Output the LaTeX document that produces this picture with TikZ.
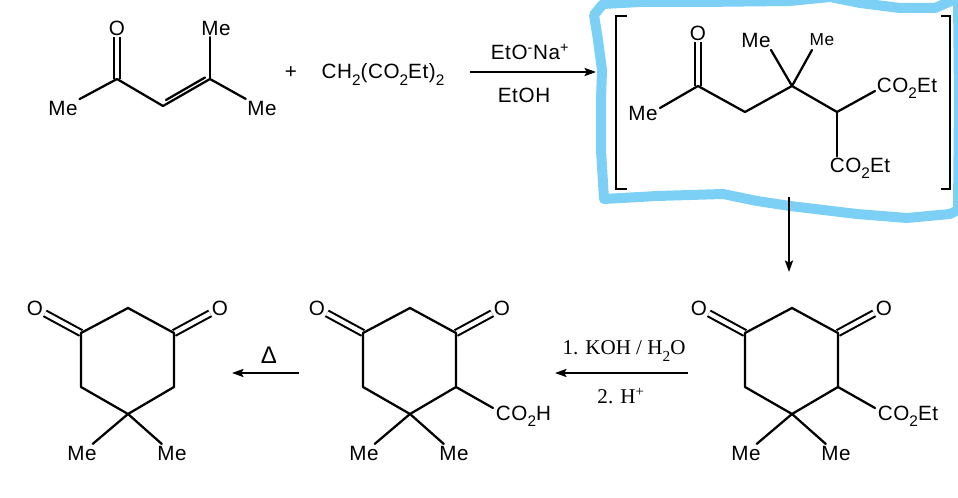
\documentclass[tikz,border=0pt]{standalone}
\usepackage{fontspec}
\setmainfont[LetterSpace=3]{Liberation Sans}
\newfontfamily\timesf{Liberation Serif}
\usetikzlibrary{arrows.meta}
\newcommand{\lowsub}[1]{\raisebox{-.3em}{\fontsize{11.5}{12}\selectfont #1}}
\tikzset{
 bond/.style={line width=1.7pt,line cap=round,line join=round,black},
 dbl/.style={line width=1.55pt,double,double distance=3.1pt,black},
 atom/.style={inner sep=1.2pt,font=\fontsize{15.5}{17}\selectfont,text=black},
 smallatom/.style={inner sep=1.2pt,font=\fontsize{13}{15}\selectfont,text=black},
 reagent/.style={inner sep=0pt,font=\fontsize{15.5}{17}\selectfont,text=black},
 serifreagent/.style={inner sep=0pt,font=\timesf\fontsize{15.8}{18}\selectfont,text=black},
 rxn/.style={line width=1.7pt,-{Stealth[length=8.5pt,width=6pt,inset=1.5pt]},black},
 brk/.style={line width=1.7pt,black},
 highlight/.style={line width=7.5pt,line join=round,line cap=round,draw=hl},
}
\definecolor{hl}{HTML}{7CCFF5}
\newcommand{\diketone}[1]{% prefix, ring drawn in a shifted scope
 \coordinate (#1cl) at (745,333);
 \coordinate (#1ct) at (792,308);
 \coordinate (#1cr) at (838,333);
 \coordinate (#1cbr) at (838,387);
 \coordinate (#1cb) at (792,414);
 \coordinate (#1cbl) at (745,387);
 \coordinate (#1end) at (875,408);
 \node[atom] (#1ol) at (699,308) {O};
 \node[atom] (#1or) at (884,308) {O};
 \node[atom] (#1mel) at (746,453) {Me};
 \node[atom] (#1mer) at (836,453) {Me};
 \draw[dbl] (#1cl) -- (#1ol);
 \draw[dbl] (#1cr) -- (#1or);
 \draw[bond] (#1cl) -- (#1ct) -- (#1cr) -- (#1cbr) -- (#1cb) -- (#1cbl) -- cycle;
 \draw[bond] (#1cb) -- (#1mel);
 \draw[bond] (#1cb) -- (#1mer);
}
\begin{document}
\begin{tikzpicture}[x=0.75pt,y=-0.75pt]
\useasboundingbox (0,0) rectangle (958,498);
% hand-drawn highlight
\draw[highlight] (603,4) -- (640,2) -- (700,2) -- (790,1) -- (830,-3) -- (860,3) -- (900,8) -- (935,8) -- (958,-2)
  -- (959,100) -- (958,210) -- (950,214) -- (907,218) -- (857,214) -- (790,206) -- (757,201) -- (723,194) -- (657,196) -- (604,199)
  -- (601,150) -- (601,100) -- (602,70) -- (598,40) -- (594,15) -- cycle;
% enone
\coordinate (a1) at (117,79);
\coordinate (a2) at (163,106);
\coordinate (a3) at (210,79);
\node[atom] (ao) at (117,28) {O};
\node[atom] (ame1) at (63,108) {Me};
\node[atom] (ame2) at (216,28) {Me};
\node[atom] (ame3) at (262,108) {Me};
\coordinate (a2i) at (166,100);
\coordinate (a3i) at (205,77.5);
\draw[dbl] (a1) -- (ao);
\draw[bond] (a1) -- (ame1);
\draw[bond] (a1) -- (a2) -- (a3);
\draw[bond] (a2i) -- (a3i);
\draw[bond] (a3) -- (a3 |- ame2.south);
\draw[bond] (a3) -- (ame3);
\node[inner sep=0pt,font=\fontsize{15.5}{17}\selectfont] (plus) at (291,73) {+};
\node[reagent] (malonate) at (383,74.5) {CH\lowsub{2}(CO\lowsub{2}Et)\lowsub{2}};
\coordinate (r1s) at (470,72);
\coordinate (r1e) at (596,72);
\draw[rxn] (r1s) -- (r1e);
\node[reagent] (r1a) at (530,52) {EtO\textsuperscript{-}Na\textsuperscript{+}};
\node[reagent] (r1b) at (524,95) {EtOH};
% intermediate
\coordinate (b1) at (698,86);
\coordinate (b2) at (745,112);
\coordinate (b3) at (792,86);
\coordinate (b4) at (837,112);
\coordinate (bme1end) at (660,108);
\coordinate (bme2end) at (771,50);
\coordinate (bme3end) at (812,50);
\coordinate (bco1end) at (875,91);
\node[atom] (bo) at (698,33) {O};
\node[atom] (bme1) at (643,113) {Me};
\node[atom] (bme2) at (756,40) {Me};
\node[smallatom] (bme3) at (822,40) {Me};
\node[atom] (bco1) at (907,88.5) {CO\lowsub{2}Et};
\node[atom] (bco2) at (860,168.5) {CO\lowsub{2}Et};
\draw[dbl] (b1) -- (bo);
\draw[bond] (bme1end) -- (b1) -- (b2) -- (b3) -- (b4);
\draw[bond] (b3) -- (bme2end);
\draw[bond] (b3) -- (bme3end);
\draw[bond] (b4) -- (bco1end);
\draw[bond] (b4) -- (b4 |- bco2.north);
\coordinate (bl1) at (627,16); \coordinate (bl2) at (616,16);
\coordinate (bl3) at (616,189); \coordinate (bl4) at (627,189);
\coordinate (br1) at (941,16); \coordinate (br2) at (950,16);
\coordinate (br3) at (950,189); \coordinate (br4) at (941,189);
\draw[brk] (bl1) -- (bl2) -- (bl3) -- (bl4);
\draw[brk] (br1) -- (br2) -- (br3) -- (br4);
% step 2
\coordinate (r2s) at (789,197);
\coordinate (r2e) at (789,272);
\draw[rxn] (r2s) -- (r2e);
% right ester
\diketone{c}
\node[atom] (cco) at (908,416.5) {CO\lowsub{2}Et};
\draw[bond] (ccbr) -- (cend);
% middle acid
\begin{scope}[xshift=-286.5pt]
\diketone{d}
\node[atom] (dco) at (905.5,416.5) {CO\lowsub{2}H};
\draw[bond] (dcbr) -- (dend);
\end{scope}
% left product
\begin{scope}[xshift=-498pt]
\diketone{e}
\end{scope}
% arrows
\coordinate (r3s) at (688,373); \coordinate (r3e) at (555,373);
\draw[rxn] (r3s) -- (r3e);
\node[serifreagent] (r3a) at (624,351) {1. KOH / H\lowsub{2}O};
\node[serifreagent] (r3b) at (621,396) {2. H\textsuperscript{+}};
\coordinate (r4s) at (299,373); \coordinate (r4e) at (232,373);
\draw[rxn] (r4s) -- (r4e);
\node[reagent,font=\fontsize{18}{20}\selectfont] (delta) at (269,355) {Δ};
\end{tikzpicture}
\end{document}
